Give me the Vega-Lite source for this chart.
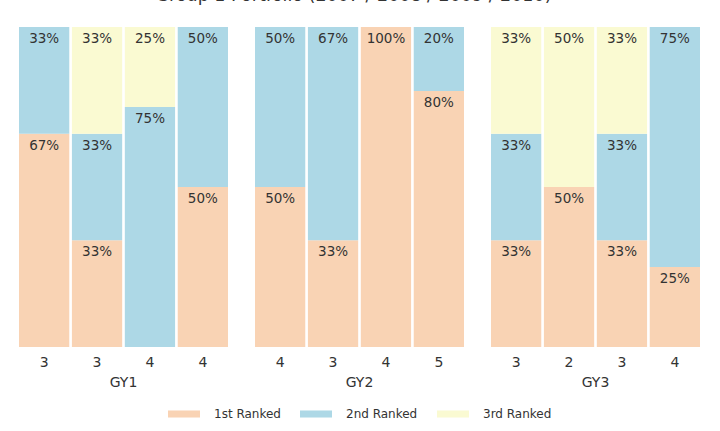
{
  "$schema": "https://vega.github.io/schema/vega-lite/v6.json",
  "padding": {"left": 19, "right": 20, "top": -14, "bottom": 4},
  "title": {
    "text": "Group 1 Portfolio (2007 / 2008 / 2009 / 2010)",
    "fontSize": 17.5,
    "fontWeight": "normal",
    "color": "#333333",
    "anchor": "middle",
    "dx": -6,
    "offset": 23
  },
  "config": {
    "font": "DejaVu Sans",
    "background": "white",
    "view": {"stroke": null},
    "legend": {"layout": {"bottom": {"anchor": "middle"}}}
  },
  "data": {
    "values": [
      {"group": "GY1", "bar": "1|3", "rank": "1st Ranked", "share": 0.6667},
      {"group": "GY1", "bar": "1|3", "rank": "2nd Ranked", "share": 0.3333},
      {"group": "GY1", "bar": "2|3", "rank": "1st Ranked", "share": 0.3333},
      {"group": "GY1", "bar": "2|3", "rank": "2nd Ranked", "share": 0.3333},
      {"group": "GY1", "bar": "2|3", "rank": "3rd Ranked", "share": 0.3333},
      {"group": "GY1", "bar": "3|4", "rank": "2nd Ranked", "share": 0.75},
      {"group": "GY1", "bar": "3|4", "rank": "3rd Ranked", "share": 0.25},
      {"group": "GY1", "bar": "4|4", "rank": "1st Ranked", "share": 0.5},
      {"group": "GY1", "bar": "4|4", "rank": "2nd Ranked", "share": 0.5},
      {"group": "GY2", "bar": "1|4", "rank": "1st Ranked", "share": 0.5},
      {"group": "GY2", "bar": "1|4", "rank": "2nd Ranked", "share": 0.5},
      {"group": "GY2", "bar": "2|3", "rank": "1st Ranked", "share": 0.3333},
      {"group": "GY2", "bar": "2|3", "rank": "2nd Ranked", "share": 0.6667},
      {"group": "GY2", "bar": "3|4", "rank": "1st Ranked", "share": 1.0},
      {"group": "GY2", "bar": "4|5", "rank": "1st Ranked", "share": 0.8},
      {"group": "GY2", "bar": "4|5", "rank": "2nd Ranked", "share": 0.2},
      {"group": "GY3", "bar": "1|3", "rank": "1st Ranked", "share": 0.3333},
      {"group": "GY3", "bar": "1|3", "rank": "2nd Ranked", "share": 0.3333},
      {"group": "GY3", "bar": "1|3", "rank": "3rd Ranked", "share": 0.3333},
      {"group": "GY3", "bar": "2|2", "rank": "1st Ranked", "share": 0.5},
      {"group": "GY3", "bar": "2|2", "rank": "3rd Ranked", "share": 0.5},
      {"group": "GY3", "bar": "3|3", "rank": "1st Ranked", "share": 0.3333},
      {"group": "GY3", "bar": "3|3", "rank": "2nd Ranked", "share": 0.3333},
      {"group": "GY3", "bar": "3|3", "rank": "3rd Ranked", "share": 0.3333},
      {"group": "GY3", "bar": "4|4", "rank": "1st Ranked", "share": 0.25},
      {"group": "GY3", "bar": "4|4", "rank": "2nd Ranked", "share": 0.75}
    ]
  },
  "transform": [
    {
      "stack": "share",
      "groupby": ["group", "bar"],
      "sort": [{"field": "rank", "order": "ascending"}],
      "as": ["y0", "y1"],
      "offset": "normalize"
    }
  ],
  "facet": {
    "column": {
      "field": "group",
      "type": "nominal",
      "title": null,
      "header": {
        "labelOrient": "bottom",
        "labelFontSize": 14,
        "labelColor": "#333333",
        "labelPadding": 7
      }
    }
  },
  "spacing": 27,
  "resolve": {"scale": {"x": "independent"}},
  "spec": {
    "width": 209,
    "height": 320,
    "encoding": {
      "x": {
        "field": "bar",
        "type": "nominal",
        "scale": {"paddingInner": 0.05, "paddingOuter": 0},
        "axis": {
          "title": null,
          "labelAngle": 0,
          "domain": false,
          "ticks": false,
          "labelPadding": 8,
          "labelFontSize": 14,
          "labelColor": "#333333",
          "labelExpr": "split(datum.value, '|')[1]"
        }
      }
    },
    "layer": [
      {
        "mark": {"type": "bar"},
        "encoding": {
          "y": {
            "field": "y0",
            "type": "quantitative",
            "scale": {"domain": [0, 1]},
            "axis": null
          },
          "y2": {"field": "y1"},
          "color": {
            "field": "rank",
            "type": "nominal",
            "scale": {
              "domain": ["1st Ranked", "2nd Ranked", "3rd Ranked"],
              "range": ["#F9D3B4", "#ADD8E6", "#FAFAD2"]
            },
            "legend": {
              "title": null,
              "orient": "bottom",
              "direction": "horizontal",
              "symbolType": "M-1,-0.22H1V0.22H-1Z",
              "symbolSize": 1024,
              "symbolStrokeWidth": 0,
              "labelFontSize": 12,
              "labelColor": "#333333",
              "labelOffset": 14,
              "columnPadding": 19,
              "offset": 8
            }
          }
        }
      },
      {
        "mark": {
          "type": "text",
          "baseline": "top",
          "dy": 5,
          "fontSize": 13.5,
          "color": "#333333"
        },
        "encoding": {
          "y": {"field": "y1", "type": "quantitative"},
          "text": {"field": "share", "type": "quantitative", "format": ".0%"}
        }
      }
    ]
  }
}
